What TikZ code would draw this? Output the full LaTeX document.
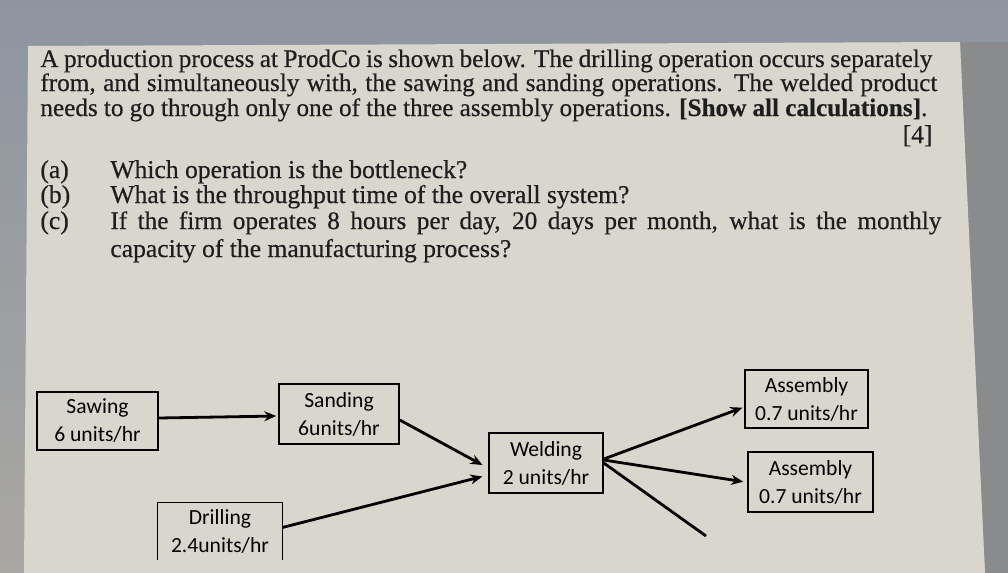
\documentclass[tikz,border=0pt]{standalone}
\usepackage{fontspec}
\setmainfont{Liberation Serif}[FakeBold=0.5]
\newfontfamily\diagfont{Carlito}
\usetikzlibrary{arrows.meta}
\definecolor{screen}{HTML}{8E95A1}
\definecolor{screenlow}{HTML}{A9A7A2}
\definecolor{edge}{HTML}{8A8B8C}
\definecolor{paper}{HTML}{D9D6CE}
\definecolor{ink}{HTML}{1E1E1E}
\newcommand{\jline}[2]{\makebox[#1][s]{#2}}
\begin{document}
\begin{tikzpicture}[x=0.5pt,y=-0.5pt,
  qline/.style={anchor=base west, inner sep=0pt, text=ink, font=\fontsize{12.6}{14}\selectfont},
  qwide/.style={qline, font=\fontsize{12.8}{14}\selectfont},
  proc/.style={inner sep=0pt, align=center, font=\diagfont\fontsize{10.8}{14}\selectfont},
  box/.style={draw=black, line width=0.75pt},
  flow/.style={line width=1.4pt, shorten >=1pt, -{Stealth[length=6pt,width=5pt]}},
  plain/.style={line width=1.4pt}]
\useasboundingbox (0,0) rectangle (1008,573);
\shade[top color=screen, bottom color=screenlow] (0,0) rectangle (1008,573);
\fill[edge] (960,42) -- (1008,42) -- (1008,573) -- (985,573) -- cycle;
\fill[paper] (28,46) -- (960,42) -- (985,573) -- (24,573) -- cycle;

% question text
\node[qline] (l1) at (40,67) {\jline{446pt}{A production process at ProdCo is shown below. The drilling operation occurs separately}};
\node[qline] (l2) at (40,91) {\jline{448.5pt}{from, and simultaneously with, the sawing and sanding operations. The welded product}};
\node[qline] (l3) at (40,116) {\jline{443.5pt}{needs to go through only one of the three assembly operations. \textbf{[Show all calculations]}.}};
\node[qwide, anchor=base east] (mk) at (933,143) {[4]};
\node[qwide] (la) at (40,178) {(a)};
\node[qwide] (ta) at (110,178) {Which operation is the bottleneck?};
\node[qwide] (lb) at (40,203) {(b)};
\node[qwide] (tb) at (110,203) {What is the throughput time of the overall system?};
\node[qwide] (lc) at (40,229) {(c)};
\node[qline] (tc) at (110,229) {\jline{415.5pt}{If the firm operates 8 hours per day, 20 days per month, what is the monthly}};
\node[qwide] (tc2) at (110,257) {capacity of the manufacturing process?};

% diagram
\node[proc, box, minimum width=60.5pt, minimum height=29pt] (saw) at (97.5,421) {Sawing\\6 units/hr};
\node[proc, box, minimum width=60pt, minimum height=30pt] (sand) at (339,414) {Sanding\\6units/hr};
\node[proc, minimum width=62pt, minimum height=28.5pt] (drill) at (220,531.5) {Drilling\\2.4units/hr};
\draw[line width=0.75pt] (drill.south west) -- (drill.north west) -- (drill.north east) -- (drill.south east);
\node[proc, box, minimum width=57pt, minimum height=30pt] (weld) at (546,463) {Welding\\2 units/hr};
\node[proc, box, minimum width=61.5pt, minimum height=29pt] (asm1) at (806.5,399) {Assembly\\0.7 units/hr};
\node[proc, box, minimum width=62.5pt, minimum height=30pt] (asm2) at (810.5,482) {Assembly\\0.7 units/hr};
\coordinate (asm3) at (706,536);

\draw[flow] ([yshift=1.5pt]saw.east) -- ([yshift=-1pt]sand.west);
\draw[flow] ([yshift=-3pt]sand.east) -- ([xshift=-2pt,yshift=-1.5pt]weld.west);
\draw[flow] ([yshift=2pt]drill.east) -- ([xshift=-2pt,yshift=-6.5pt]weld.west);
\draw[flow] ([yshift=2pt]weld.east) -- ([yshift=-4pt]asm1.west);
\draw[flow] ([yshift=1.5pt]weld.east) -- ([xshift=-1pt]asm2.west);
\draw[plain] (weld.east) -- (asm3);
\end{tikzpicture}
\end{document}
